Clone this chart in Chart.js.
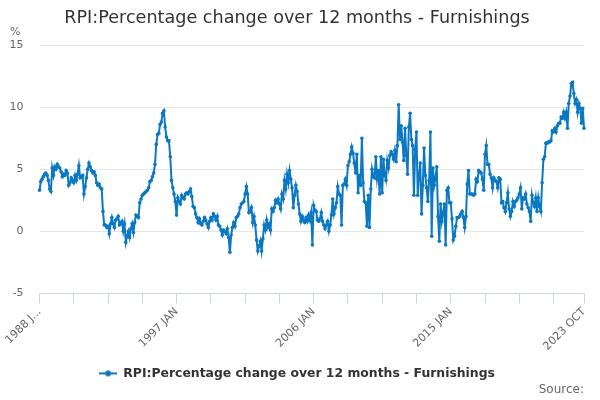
<!DOCTYPE html>
<html>
<head>
<meta charset="utf-8">
<title>RPI: Furnishings</title>
<script src="https://cdn.jsdelivr.net/npm/chart.js@4.4.0/dist/chart.umd.min.js"></script>
<style>
  html, body { margin: 0; padding: 0; background: #ffffff; }
  #wrap { width: 600px; height: 400px; }
</style>
</head>
<body>
<div id="wrap"><canvas id="rpiChart"></canvas></div>
<script>
"use strict";

// monthly series, 1988 JAN .. 2023 OCT
var MONTHS = ['JAN', 'FEB', 'MAR', 'APR', 'MAY', 'JUN', 'JUL', 'AUG', 'SEP', 'OCT', 'NOV', 'DEC'];
var firstYear = 1988;
var lastYear = 2023;
var lastMonth = 10;

// labels that get printed under the axis
var tickLabels = ['1988 JAN', '1997 JAN', '2006 JAN', '2015 JAN', '2023 OCT'];

// % change over 12 months, one year per row
var values = [
    3.3, 4.0, 4.2, 4.4, 4.6, 4.7, 4.5, 4.1, 3.4, 3.2, 5.1, 4.5,        // 1988
    5.2, 5.0, 5.4, 5.2, 5.1, 4.8, 4.4, 4.6, 4.5, 4.9, 4.7, 3.7,        // 1989
    3.9, 4.3, 4.1, 3.9, 4.5, 4.1, 4.6, 5.3, 4.3, 4.4, 4.5, 3.0,        // 1990
    3.6, 4.3, 5.0, 5.5, 5.2, 4.9, 4.7, 4.8, 4.5, 3.9, 3.7, 3.8,        // 1991
    3.5, 3.4, 1.6, 0.5, 0.5, 0.3, 0.4, -0.2, 0.6, 1.1, 0.6, 0.3,       // 1992
    0.9, 1.0, 1.2, 0.5, 0.6, 0.8, 0.0, 0.6, -0.9, -0.4, 0.0, -0.5,     // 1993
    0.2, 0.6, -0.1, 0.7, 1.3, 1.2, 1.1, 2.3, 2.6, 2.9, 3.0, 3.1,       // 1994
    3.2, 3.3, 3.5, 4.0, 4.1, 4.4, 4.7, 5.4, 7.0, 7.8, 7.9, 8.6,        // 1995
    8.8, 9.5, 9.7, 8.4, 7.6, 7.3, 7.3, 6.0, 4.1, 3.5, 3.0, 2.4,        // 1996
    1.3, 2.7, 2.4, 2.2, 2.9, 2.7, 2.6, 3.0, 3.1, 3.0, 3.2, 3.4,        // 1997
    2.8, 2.0, 1.9, 1.4, 1.1, 0.7, 1.0, 0.6, 0.5, 0.8, 1.1, 0.9,        // 1998
    0.6, 0.3, 0.8, 1.1, 0.9, 1.4, 1.2, 0.9, 1.2, 0.5, 0.4, 0.1,        // 1999
    -0.3, 0.1, 0.0, -0.2, 0.2, -0.5, -1.7, -0.3, 0.3, 0.7, 0.4, 1.1,   // 2000
    1.2, 1.4, 1.9, 2.2, 2.3, 2.4, 3.0, 3.6, 3.0, 1.5, 1.6, 1.9,        // 2001
    0.7, 1.2, 0.5, -0.7, -1.6, -1.2, -0.8, -1.6, -0.6, 0.5, 0.1, 0.9,  // 2002
    0.3, 0.6, 0.1, 1.8, 1.6, 1.9, 2.5, 2.3, 2.6, 2.2, 1.8, 3.0,        // 2003
    2.6, 4.1, 3.4, 4.6, 3.9, 4.9, 4.2, 3.5, 1.9, 2.9, 3.7, 3.2,        // 2004
    2.2, 1.4, 0.8, 1.2, 0.9, 0.7, 1.1, 0.8, 1.3, 0.9, 1.5, -1.1,       // 2005
    2.1, 1.7, 1.6, 0.9, 0.8, 1.0, 1.5, 0.8, 0.5, 0.2, 0.5, 0.8,        // 2006
    0.0, 0.5, 1.3, 2.6, 1.4, 1.9, 2.3, 3.6, 3.0, 2.9, 0.5, 3.7,        // 2007
    3.8, 4.2, 3.7, 5.3, 5.6, 6.2, 6.8, 6.3, 5.5, 4.7, 6.2, 3.1,        // 2008
    4.5, 3.7, 7.5, 3.9, 2.4, 2.3, 0.4, 2.9, 0.3, 3.4, 5.0, 4.4,        // 2009
    4.3, 6.0, 4.2, 4.9, 3.0, 6.0, 3.1, 5.8, 4.5, 4.1, 5.7, 5.1,        // 2010
    6.1, 6.4, 6.2, 5.8, 6.5, 5.6, 6.9, 10.2, 7.4, 8.5, 7.2, 5.7,       // 2011
    8.3, 6.1, 4.6, 8.4, 9.5, 7.4, 6.9, 2.9, 6.6, 8.0, 2.9, 4.5,        // 2012
    5.5, 1.4, 3.7, 6.7, 4.5, 3.5, 2.4, 4.1, 8.0, -0.4, 5.1, 3.7,       // 2013
    4.3, 5.2, 1.2, -0.8, 2.2, 0.8, 1.5, 2.2, -1.1, 3.3, 3.5, 2.3,      // 2014
    2.3, 1.0, -0.7, -0.4, 0.4, 1.1, 1.1, 1.2, 1.4, 1.6, 1.1, 0.3,      // 2015
    1.2, 3.8, 4.9, 3.0, 3.0, 3.0, 2.9, 3.0, 4.2, 4.0, 4.9, 4.8,        // 2016
    4.7, 4.2, 3.3, 6.2, 6.9, 5.4, 5.4, 4.6, 4.3, 3.5, 4.3, 4.1,        // 2017
    4.0, 3.5, 4.3, 4.2, 2.3, 2.4, 1.9, 1.6, 2.3, 3.1, 1.8, 1.2,        // 2018
    1.6, 2.4, 2.0, 2.4, 2.5, 2.7, 3.0, 3.5, 1.8, 2.7, 2.6, 3.0,        // 2019
    2.2, 1.9, 1.6, 0.8, 2.9, 2.3, 2.0, 2.7, 1.6, 2.7, 2.0, 1.6,        // 2020
    3.9, 5.8, 6.0, 7.1, 7.1, 7.2, 7.2, 7.3, 8.1, 8.0, 8.3, 8.0,        // 2021
    8.5, 8.7, 8.7, 9.2, 9.1, 9.6, 9.1, 9.6, 8.3, 10.3, 10.9, 11.9,     // 2022
    12.0, 11.1, 10.3, 10.6, 9.6, 10.3, 9.9, 8.7, 9.9, 8.3              // 2023
];

var seriesName = 'RPI:Percentage change over 12 months - Furnishings';
var lineColor = '#0a78c2';

var categories = [];
for (var y = firstYear; y <= lastYear; y++) {
    var endMonth = (y === lastYear) ? lastMonth : 12;
    for (var m = 0; m < endMonth; m++) {
        categories.push(y + ' ' + MONTHS[m]);
    }
}

// small tick marks every 27 months, plus one on the last month
function isMinorTick(index) {
    return index % 27 === 0 || index === categories.length - 1;
}

// legend swatch: short line with a dot on it
function legendSwatch() {
    var c = document.createElement('canvas');
    c.width = 18;
    c.height = 8;
    var g = c.getContext('2d');
    g.strokeStyle = lineColor;
    g.lineWidth = 2;
    g.beginPath();
    g.moveTo(0, 4);
    g.lineTo(18, 4);
    g.stroke();
    g.fillStyle = lineColor;
    g.beginPath();
    g.arc(9, 4, 3, 0, Math.PI * 2);
    g.fill();
    return c;
}

// "%" unit above the value axis
var unitLabel = {
    id: 'unitLabel',
    afterDraw: function (chart) {
        var ctx = chart.ctx;
        ctx.save();
        ctx.font = '11px "DejaVu Sans"';
        ctx.fillStyle = '#666666';
        ctx.textAlign = 'left';
        ctx.textBaseline = 'middle';
        ctx.fillText('%', 10, 32);
        ctx.restore();
    }
};

var ctx = document.getElementById('rpiChart').getContext('2d');
new Chart(ctx, {
    type: 'line',
    data: {
        labels: categories,
        datasets: [{
            label: seriesName,
            data: values,
            borderColor: lineColor,
            backgroundColor: lineColor,
            borderWidth: 2,
            pointRadius: 1.8,
            pointBorderWidth: 0,
            pointHoverRadius: 3,
            tension: 0
        }]
    },
    options: {
        responsive: true,
        maintainAspectRatio: false,
        animation: false,
        layout: {
            padding: { left: 10, right: 16, top: 0, bottom: 3 }
        },
        plugins: {
            title: {
                display: true,
                text: 'RPI:Percentage change over 12 months - Furnishings',
                color: '#333333',
                font: { family: '"DejaVu Sans"', size: 17.6, weight: 'normal' },
                padding: { top: 8, bottom: 16 }
            },
            subtitle: {
                display: true,
                text: 'Source:',
                position: 'bottom',
                align: 'end',
                color: '#666666',
                font: { family: '"DejaVu Sans"', size: 12, weight: 'normal' },
                // negative top padding lets the legend sit close above it
                padding: { top: -7, bottom: 0 }
            },
            legend: {
                position: 'bottom',
                labels: {
                    usePointStyle: true,
                    pointStyle: legendSwatch(),
                    pointStyleWidth: 18,
                    color: '#333333',
                    font: { family: '"DejaVu Sans"', size: 12.4, weight: 'bold' },
                    padding: 12
                }
            },
            tooltip: { enabled: false }
        },
        scales: {
            x: {
                grid: {
                    drawOnChartArea: false,
                    tickLength: 10,
                    tickColor: function (c) {
                        return isMinorTick(c.index) ? '#ccd6eb' : 'rgba(0,0,0,0)';
                    }
                },
                border: { color: '#ccd6eb', width: 1 },
                ticks: {
                    autoSkip: false,
                    minRotation: 45,
                    maxRotation: 45,
                    padding: 2,
                    color: '#666666',
                    font: { family: '"DejaVu Sans"', size: 11 },
                    callback: function (value, index) {
                        var label = categories[index];
                        if (tickLabels.indexOf(label) < 0) {
                            return '';
                        }
                        // the first label is cut short in the original
                        return index === 0 ? label.slice(0, 6) + '...' : label;
                    }
                }
            },
            y: {
                min: -5,
                max: 15,
                grid: {
                    color: '#e6e6e6',
                    drawTicks: false
                },
                border: { display: false },
                ticks: {
                    stepSize: 5,
                    padding: 16,
                    color: '#666666',
                    font: { family: '"DejaVu Sans"', size: 11 }
                },
                // chart.js counts the label padding twice; pin the axis width
                afterFit: function (scale) {
                    scale.width = 29.5;
                }
            }
        }
    },
    plugins: [unitLabel]
});
</script>
</body>
</html>
